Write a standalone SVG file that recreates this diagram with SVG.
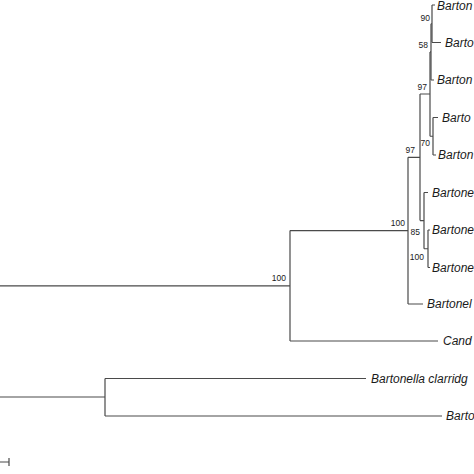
<svg xmlns="http://www.w3.org/2000/svg" width="474" height="474" viewBox="0 0 474 474">
<style>
.br{fill:none;stroke:#4a4a4a;stroke-width:1.2}
.lf{font-family:"Liberation Sans",Arial,sans-serif;font-style:italic;font-size:12px;fill:#1a1a1a}
.bs{font-family:"Liberation Sans",Arial,sans-serif;font-size:8.5px;fill:#1a1a1a;text-anchor:end}
</style>
<rect width="474" height="474" fill="#ffffff"/>
<g id="connectors">
<path class="br" d="M0,285.8H290M290,230.6V341M290,230.6H408M290,341H438"/>
<path class="br" d="M408,157.3V304M408,157.3H420M408,304H423"/>
<path class="br" d="M420,94V220.6M420,94H430M420,220.6H424"/>
<path class="br" d="M430,51.9V136.25M430,51.9H431M430,136.25H433"/>
<path class="br" d="M431,23.75V80M431,23.75H432M431,80H434"/>
<path class="br" d="M432,5V42.5M432,5H435M432,42.5H441"/>
<path class="br" d="M433,117.5V155M433,117.5H438M433,155H436"/>
<path class="br" d="M424,192.5V248.75M424,192.5H428M424,248.75H428"/>
<path class="br" d="M428,230V267.5M428,230H430M428,267.5H430"/>
<path class="br" d="M0,397H105M105,378.5V416M105,378.5H366M105,416H442"/>
<path class="br" d="M0,462H9M9,458V466"/>
</g>
<g id="node-A"><text class="bs" x="286" y="281">100</text></g>
<g id="node-B"><text class="bs" x="405" y="226">100</text></g>
<g id="node-C"><text class="bs" x="415" y="153">97</text></g>
<g id="node-D"><text class="bs" x="427" y="90">97</text></g>
<g id="node-G"><text class="bs" x="430" y="21">90</text></g>
<g id="node-H"><text class="bs" x="428" y="48">58</text></g>
<g id="node-I"><text class="bs" x="430" y="146">70</text></g>
<g id="node-E"><text class="bs" x="420" y="235">85</text></g>
<g id="node-F"><text class="bs" x="424" y="260">100</text></g>
<g id="leaf-1"><text class="lf" x="437" y="10">Barton</text></g>
<g id="leaf-2"><text class="lf" x="445" y="46.5">Barto</text></g>
<g id="leaf-3"><text class="lf" x="437" y="84">Barton</text></g>
<g id="leaf-4"><text class="lf" x="442" y="121.5">Barto</text></g>
<g id="leaf-5"><text class="lf" x="438" y="159">Barton</text></g>
<g id="leaf-6"><text class="lf" x="432" y="196.5">Bartone</text></g>
<g id="leaf-7"><text class="lf" x="432" y="234">Bartone</text></g>
<g id="leaf-8"><text class="lf" x="432" y="271.5">Bartone</text></g>
<g id="leaf-9"><text class="lf" x="427" y="308">Bartonel</text></g>
<g id="leaf-10"><text class="lf" x="443" y="345">Cand</text></g>
<g id="leaf-11"><text class="lf" x="371" y="382.5">Bartonella clarridg</text></g>
<g id="leaf-12"><text class="lf" x="446" y="420">Barto</text></g>
</svg>
